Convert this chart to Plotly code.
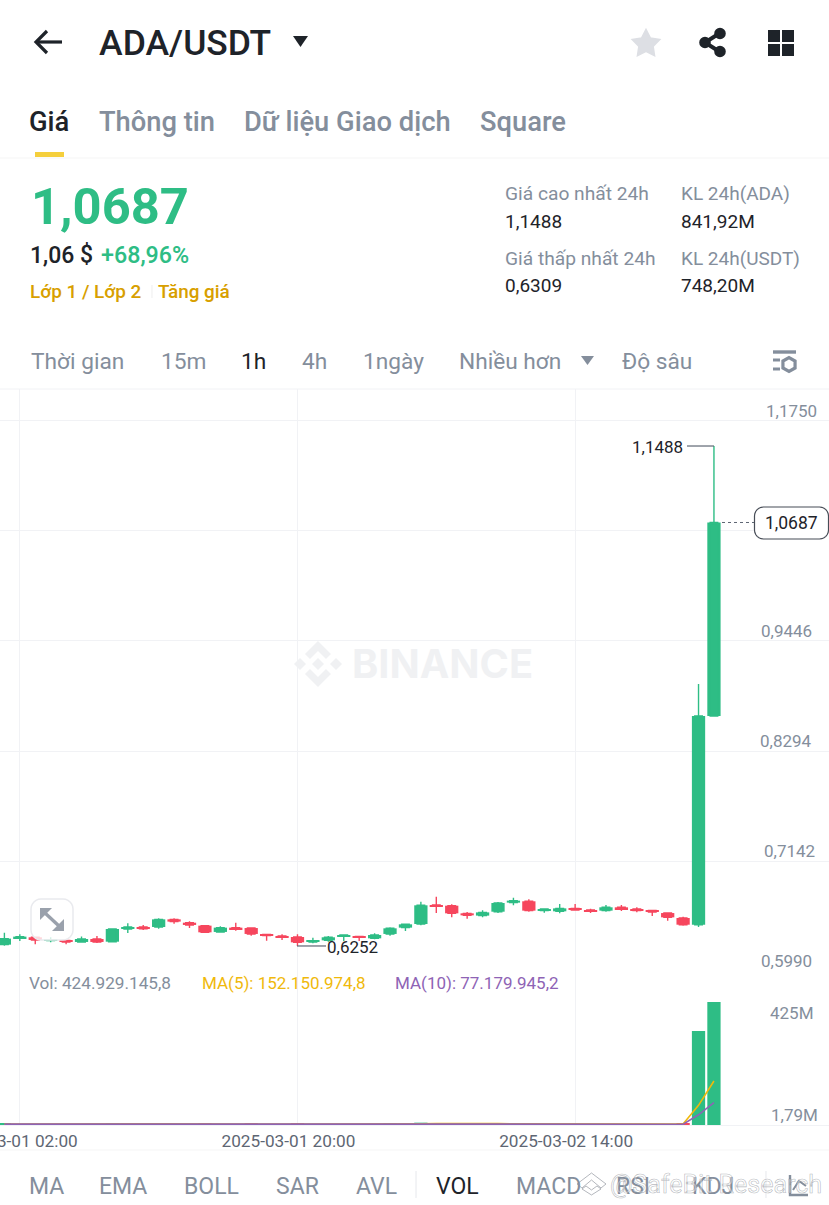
import math
import plotly.graph_objects as go

W, H = 829, 1205
FONT = "Roboto"
MEDIUM = "Roboto Medium, Roboto"
DARK = "#1E2329"
GREY = "#848E9C"
GREEN = "#2EBD85"
RED = "#F6465D"
GRID = "#F1F2F5"
YELLOW = "#F0B90B"
PURPLE = "#8E63B5"

times = ["2025-03-01 %02d:00" % h for h in range(1, 24)] + \
        ["2025-03-02 %02d:00" % h for h in range(0, 24)]

opens = [.6266,.6332,.6343,.6308,.6311,.6294,.6325,.6297,.6430,.6451,.6451,.6531,.6496,.6465,.6399,.6444,
         .6440,.6374,.6357,.6346,.6294,.6311,.6353,.6353,.6332,.6378,.6444,.6482,.6681,.6674,.6594,.6570,
         .6611,.6706,.6720,.6622,.6615,.6646,.6629,.6622,.6657,.6639,.6625,.6597,.6545,.6475,.8661]
highs = [.6391,.6374,.6343,.6343,.6322,.6350,.6357,.6437,.6489,.6472,.6542,.6542,.6510,.6472,.6458,.6496,
         .6440,.6381,.6374,.6374,.6339,.6357,.6374,.6357,.6385,.6447,.6482,.6716,.6768,.6688,.6608,.6625,
         .6713,.6758,.6741,.6643,.6692,.6692,.6643,.6681,.6681,.6657,.6632,.6604,.6559,.8996,1.1488]
lows  = [.6255,.6304,.6269,.6290,.6269,.6287,.6283,.6290,.6388,.6419,.6433,.6486,.6440,.6388,.6391,.6412,
         .6360,.6308,.6315,.6252,.6280,.6297,.6304,.6304,.6322,.6360,.6409,.6468,.6597,.6552,.6538,.6552,
         .6597,.6678,.6611,.6601,.6594,.6622,.6597,.6611,.6618,.6604,.6566,.6517,.6465,.6451,.8661]
closes= [.6329,.6350,.6315,.6315,.6294,.6325,.6294,.6430,.6451,.6433,.6531,.6507,.6472,.6395,.6444,.6426,
         .6378,.6360,.6343,.6290,.6308,.6343,.6367,.6343,.6367,.6437,.6479,.6678,.6667,.6594,.6573,.6604,
         .6702,.6727,.6622,.6639,.6646,.6629,.6615,.6657,.6639,.6622,.6608,.6552,.6475,.8661,1.0687]
volumes = [3.6,2.4,2.9,1.8,2.2,2.7,3.1,6.4,4.0,2.5,4.8,3.0,2.6,3.9,3.1,3.3,3.8,2.7,2.1,4.4,2.3,2.9,2.4,1.9,
           3.0,4.2,3.2,8.1,6.9,5.2,3.4,3.0,4.6,3.1,4.3,2.4,2.6,2.2,2.0,2.5,2.3,2.1,3.0,3.4,4.7,324.7,424.93]
ma5 = [3.2,3.0,2.9,2.8,2.6,2.4,2.6,3.4,3.7,3.8,4.1,3.7,3.5,3.6,3.3,3.2,3.4,3.3,3.0,3.2,3.1,2.9,2.9,2.6,
       2.5,2.9,2.9,4.1,5.1,5.6,5.6,5.1,4.6,3.8,3.8,3.5,3.3,3.0,2.9,2.4,2.4,2.3,2.4,2.7,3.2,67.8,152.15]
ma10 = [3.1,3.0,3.0,2.9,2.8,2.7,2.8,3.2,3.3,3.2,3.4,3.4,3.4,3.5,3.5,3.5,3.5,3.4,3.2,3.4,3.1,3.1,3.0,2.8,
        2.9,3.1,3.0,3.9,4.4,4.5,4.5,4.4,4.5,4.3,4.5,4.5,4.2,3.6,3.4,3.0,2.8,2.7,2.7,2.6,2.8,35.3,77.18]
colors = [GREEN if c >= o else RED for o, c in zip(opens, closes)]
bases = [min(o, c) for o, c in zip(opens, closes)]
spans = [abs(c - o) for o, c in zip(opens, closes)]

price_ticks = [.5990, .7142, .8294, .9446, 1.0598, 1.1750]
price_labels = ["0,5990", "0,7142", "0,8294", "0,9446", "", "1,1750"]
label_right = [813.5, 817, 813.5, 813.5, 813.5, 819]
date_ticks = ["2025-03-01 02:00", "2025-03-01 20:00", "2025-03-02 14:00"]
X_RANGE = ["2025-03-01 00:42:54", "2025-03-03 06:27:30"]
PRICE_RANGE = [.5990, 1.2085]
VOL_RANGE = [0, 532]


def fx(x):
    return x / W


def fy(y):
    return 1 - y / H


annotations, shapes = [], []


def text(x, y, s, size, color=GREY, anchor="left", bold=False, font=FONT):
    annotations.append(dict(xref="paper", yref="paper", x=fx(x), y=fy(y), text=("<b>%s</b>" % s) if bold else s,
                            showarrow=False, xanchor=anchor, yanchor="middle", borderpad=0, borderwidth=0,
                            font=dict(size=size, color=color, family=font)))


def poly(pts, fill=None, line=None, width=0, close=True):
    p = "M " + " L ".join("%.5f,%.5f" % (fx(a), fy(b)) for a, b in pts) + (" Z" if close else "")
    shapes.append(dict(type="path", xref="paper", yref="paper", path=p, fillcolor=fill or "rgba(0,0,0,0)",
                       line=dict(color=line or "rgba(0,0,0,0)", width=width)))


def hline(x0, x1, y, color=GRID, width=1):
    shapes.append(dict(type="line", xref="paper", yref="paper", x0=fx(x0), x1=fx(x1), y0=fy(y), y1=fy(y),
                       line=dict(color=color, width=width)))


def circle(cx, cy, r, fill=None, line=None, width=0):
    shapes.append(dict(type="circle", xref="paper", yref="paper", x0=fx(cx - r), x1=fx(cx + r), y0=fy(cy - r), y1=fy(cy + r),
                       fillcolor=fill or "rgba(0,0,0,0)", line=dict(color=line or "rgba(0,0,0,0)", width=width)))


def rrect(x0, y0, x1, y1, r, fill, line, width=1):
    pts = []
    for cx, cy, a0 in [(x1 - r, y0 + r, -90), (x1 - r, y1 - r, 0), (x0 + r, y1 - r, 90), (x0 + r, y0 + r, 180)]:
        for k in range(7):
            a = math.radians(a0 + k * 15)
            pts.append((cx + r * math.cos(a), cy + r * math.sin(a)))
    poly(pts, fill, line, width)


# header
poly([(62, 42), (36, 42)], line=DARK, width=3.2, close=False)
poly([(47, 31), (36, 42), (47, 53)], line=DARK, width=3.2, close=False)
text(99, 43, "ADA/USDT", 35.5, DARK, font=MEDIUM)
poly([(293, 36), (308, 36), (300.5, 47)], fill=DARK)
star = []
for k in range(10):
    r = 14 if k % 2 == 0 else 7.2
    a = math.radians(-90 + 36 * k)
    star.append((646 + r * math.cos(a), 44 + r * math.sin(a)))
poly(star, fill="#DDDFE4", line="#DDDFE4", width=2)
poly([(720, 33), (705, 42.5), (720, 52)], line=DARK, width=4, close=False)
circle(720, 33.5, 5.8, fill=DARK)
circle(705, 42.5, 5.8, fill=DARK)
circle(720, 51.5, 5.8, fill=DARK)
for a, b in [(768, 30), (782, 30), (768, 44), (782, 44)]:
    poly([(a, b), (a + 12, b), (a + 12, b + 12), (a, b + 12)], fill=DARK)

# tabs
text(29, 122, "Giá", 27.3, DARK, font=MEDIUM)
text(99, 122, "Thông tin", 27.3, GREY, font=MEDIUM)
text(244, 122, "Dữ liệu Giao dịch", 27.3, GREY, font=MEDIUM)
text(480, 122, "Square", 27.3, GREY, font=MEDIUM)
poly([(35, 152), (64, 152), (64, 157), (35, 157)], fill="#F5CF3C")
hline(0, W, 158, "#F5F5F5")

# price block
text(31, 206, "1,0687", 50.7, GREEN, bold=True)
text(30, 255, "1,06 $", 23, DARK, font=MEDIUM)
text(101, 255, "+68,96%", 23.3, GREEN, font=MEDIUM)
text(30, 291, "Lớp 1 / Lớp 2", 18.9, "#D89F00", font=MEDIUM)
poly([(152, 285), (152, 298)], line="#EEEEEE", width=1, close=False)
text(158, 291, "Tăng giá", 18.9, "#D89F00", font=MEDIUM)
text(505, 194, "Giá cao nhất 24h", 19.2, GREY)
text(505, 221, "1,1488", 19, DARK)
text(681, 194, "KL 24h(ADA)", 19, GREY)
text(681, 221, "841,92M", 19, DARK)
text(505, 258, "Giá thấp nhất 24h", 19.2, GREY)
text(505, 285, "0,6309", 19, DARK)
text(681, 258, "KL 24h(USDT)", 19, GREY)
text(681, 285, "748,20M", 19, DARK)

# interval row
for x, s, c in [(31, "Thời gian", GREY), (161, "15m", GREY), (241, "1h", DARK), (302, "4h", GREY),
                (363, "1ngày", GREY), (459, "Nhiều hơn", GREY), (622, "Độ sâu", GREY)]:
    text(x, 361, s, 22.7, c)
poly([(581, 356), (594, 356), (587.5, 365)], fill=GREY)
hline(773, 796, 352, GREY, 3.4)
hline(773, 780, 360, GREY, 3)
hline(773, 780, 369, GREY, 3)
hexa = [(789 + 7 * math.cos(math.radians(30 + 60 * k)), 364.5 + 7 * math.sin(math.radians(30 + 60 * k))) for k in range(6)]
poly(hexa, fill="#FFFFFF", line=GREY, width=3.2)
hline(0, W, 389, GRID)

# watermark
WM = "#F0F1F3"
poly([(318, 658), (324, 664), (318, 670), (312, 664)], fill=WM)
poly([(300, 658), (306, 664), (300, 670), (294, 664)], fill=WM)
poly([(336, 658), (342, 664), (336, 670), (330, 664)], fill=WM)
poly([(318, 641), (331, 654), (326, 659), (318, 651), (310, 659), (305, 654)], fill=WM)
poly([(318, 687), (331, 674), (326, 669), (318, 677), (310, 669), (305, 674)], fill=WM)
text(352, 664, "BINANCE", 39.7, WM, bold=True, font="Inter")

# expand button
rrect(31, 899, 73, 940, 10, "rgba(255,255,255,0.78)", "#E9EAEE", 1.5)
poly([(45, 913), (59, 926)], line="#9AA1AC", width=3.4, close=False)
poly([(40, 908), (52, 908), (40, 920)], fill="#9AA1AC")
poly([(64, 931), (52, 931), (64, 919)], fill="#9AA1AC")

# high / low / last markers
hi, lo, last = max(highs), min(lows), closes[-1]
shapes.append(dict(type="line", xref="paper", yref="y", x0=fx(687), x1=fx(714), y0=hi, y1=hi, line=dict(color="#5E6673", width=1.2)))
shapes.append(dict(type="line", xref="paper", yref="y", x0=fx(297), x1=fx(326), y0=lo, y1=lo, line=dict(color="#5E6673", width=1.2)))
shapes.append(dict(type="line", xref="paper", yref="y", x0=fx(722), x1=fx(754), y0=last, y1=last, line=dict(color="#5E6673", width=1, dash="3px,3px")))
text(683, 447, "1,1488", 17, DARK, "right")
text(327, 947, "0,6252", 17, DARK)
rrect(754.5, 507, 828.5, 539, 9, "#FFFFFF", "#474D57", 1.2)
text(791, 522.5, "1,0687", 17.5, DARK, "center")

# price scale labels, placed through the price axis
for val, lab, right in zip(price_ticks, price_labels, label_right):
    if lab:
        annotations.append(dict(xref="paper", yref="y", x=fx(right), y=val, yshift=10, text=lab, showarrow=False,
                                xanchor="right", yanchor="middle", font=dict(size=17, color=GREY, family=FONT)))

# volume legend and labels
text(29, 983, "Vol: 424.929.145,8", 17.2, GREY)
text(202, 983, "MA(5): 152.150.974,8", 17, YELLOW)
text(395, 983, "MA(10): 77.179.945,2", 17, PURPLE)
text(814, 1013, "425M", 17, GREY, "right")
text(818, 1115, "1,79M", 17, GREY, "right")
hline(0, W, 1150, "#F5F5F5")

# indicator row
for x, s, c in [(29, "MA", GREY), (99, "EMA", GREY), (184, "BOLL", GREY), (276, "SAR", GREY), (356, "AVL", GREY),
                (436, "VOL", DARK), (516, "MACD", GREY), (616, "RSI", GREY), (692, "KDJ", GREY)]:
    text(x, 1186, s, 23, c)
poly([(416, 1171), (416, 1198)], line="#E6E8EC", width=1, close=False)
poly([(766, 1171), (766, 1198)], line="#E6E8EC", width=1, close=False)
poly([(790, 1175), (790, 1195), (808, 1195)], line=GREY, width=2.4, close=False)
poly([(793, 1190), (799, 1181), (806, 1186)], line=GREY, width=2, close=False)

# overlay credit
text(610, 1184, "@SafeBit Research", 25, "rgba(120,125,135,0.55)")
OUT = "rgba(130,135,145,0.6)"
poly([(591.5, 1173), (606, 1184), (601, 1188), (591.5, 1180), (582, 1188), (577, 1184)], fill="rgba(255,255,255,0.7)", line=OUT, width=1)
poly([(591.5, 1195), (601, 1189), (597, 1186), (591.5, 1190), (586, 1186), (582, 1189)], fill="rgba(255,255,255,0.7)", line=OUT, width=1)

fig = go.Figure()
fig.add_trace(go.Candlestick(x=times, open=opens, high=highs, low=lows, close=closes, name="ADA/USDT",
                             increasing=dict(line=dict(color=GREEN, width=1.4), fillcolor=GREEN),
                             decreasing=dict(line=dict(color=RED, width=1.4), fillcolor=RED),
                             whiskerwidth=0, xaxis="x", yaxis="y", showlegend=False))
fig.add_trace(go.Bar(x=times, y=spans, base=bases, marker=dict(color=colors, line=dict(width=0)), xaxis="x", yaxis="y",
                     name="Body", showlegend=False))
fig.add_trace(go.Bar(x=times, y=volumes, marker=dict(color=colors, line=dict(width=0)), xaxis="x2", yaxis="y2",
                     name="Vol", showlegend=False))
fig.add_trace(go.Scatter(x=times, y=ma5, mode="lines", line=dict(color=YELLOW, width=1.6), xaxis="x2", yaxis="y2",
                         name="MA(5)", showlegend=False))
fig.add_trace(go.Scatter(x=times, y=ma10, mode="lines", line=dict(color=PURPLE, width=1.6), xaxis="x2", yaxis="y2",
                         name="MA(10)", showlegend=False))

fig.update_layout(
    width=W, height=H, margin=dict(l=0, r=0, t=0, b=0, autoexpand=False), paper_bgcolor="white", plot_bgcolor="rgba(0,0,0,0)",
    font=dict(family=FONT, color=GREY, size=16), bargap=0.14, showlegend=False, hovermode=False,
    annotations=annotations, shapes=shapes,
    xaxis=dict(type="date", range=X_RANGE, domain=[0, 1], anchor="y", rangeslider=dict(visible=False), tickvals=date_ticks,
               showticklabels=False, showgrid=True, gridcolor=GRID, gridwidth=1, zeroline=False, ticks="", automargin=False),
    xaxis2=dict(type="date", range=X_RANGE, domain=[0, 1], anchor="y2", tickvals=date_ticks, tickformat="%Y-%m-%d %H:%M",
                showgrid=True, gridcolor=GRID, gridwidth=1, zeroline=False, ticks="", showline=True, linecolor=GRID,
                ticklabeloverflow="allow", ticklabelshift=-9, automargin=False, tickfont=dict(size=17.2, color="#5E6673", family=FONT)),
    yaxis=dict(range=PRICE_RANGE, domain=[fy(971), fy(389)], side="right", anchor="x", tickvals=price_ticks,
               showticklabels=False, showgrid=True, gridcolor=GRID, gridwidth=1, zeroline=False, ticks="", automargin=False),
    yaxis2=dict(range=VOL_RANGE, domain=[fy(1125), fy(971)], side="right", anchor="x2", showticklabels=False, showgrid=False,
                zeroline=False, ticks="", automargin=False),
)
POST = """
document.body.style.margin='0';document.body.style.overflow='hidden';
document.querySelectorAll('.annotation-text').forEach(function(t){
  if(t.textContent.indexOf('@SafeBit')===0){
    t.style.fill='rgba(255,255,255,0.72)';t.style.stroke='rgba(110,115,125,0.5)';t.style.strokeWidth='0.6px';
  }
});
"""
fig.write_html("out.html", config=dict(displayModeBar=False), post_script=POST)
